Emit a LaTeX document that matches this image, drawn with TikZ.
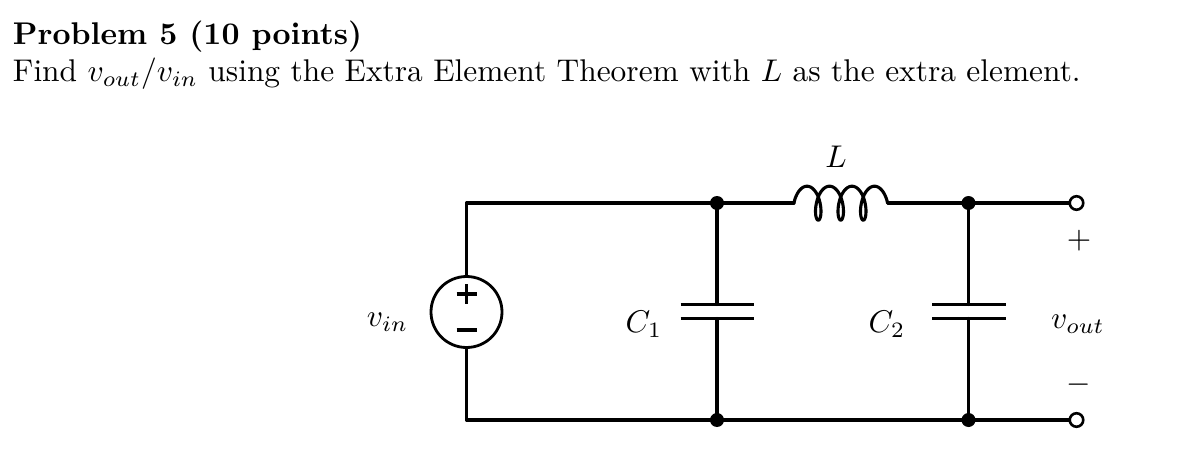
\documentclass[tikz,border=0pt]{standalone}
\newlength{\pxu}
\setlength{\pxu}{0.3185pt}
\tikzset{
  wire/.style={line width=3.1*\pxu, line cap=round, line join=round},
  plate/.style={line width=3.1*\pxu},
  dotnode/.style={circle, fill=black, draw=none, inner sep=0pt, minimum size=14*\pxu},
  term/.style={circle, fill=white, draw=black, line width=2.6*\pxu, inner sep=0pt, minimum size=13.5*\pxu},
  srcnode/.style={circle, draw=black, line width=2.8*\pxu, fill=white, inner sep=0pt, minimum size=71*\pxu},
  lbl/.style={inner sep=0pt, outer sep=0pt},
  txt/.style={inner sep=0pt, outer sep=0pt, anchor=base west}
}
\begin{document}
\begin{tikzpicture}[x=\pxu,y=-\pxu]
\useasboundingbox (0,0) rectangle (1182,464);
% text
\node[txt] (title) at (13,44) {\bfseries Problem 5 (10 points)};
\node[txt] (body) at (13,82) {Find $v_{out}/v_{in}$ using the Extra Element Theorem with $L$ as the extra element.};
% junctions
\coordinate (tl) at (466.5,203);
\coordinate (bl) at (466.5,420);
\node[dotnode] (n1) at (717,203) {};
\node[dotnode] (n2) at (968.5,203) {};
\node[dotnode] (n3) at (717,420) {};
\node[dotnode] (n4) at (968.5,420) {};
\node[term] (t1) at (1076.5,203) {};
\node[term] (t2) at (1076.5,420) {};
\node[srcnode] (src) at (466.5,312) {};
\coordinate (la) at (794,203);
\coordinate (lb) at (888,203);
\coordinate (c1t) at (717,304.5);
\coordinate (c1b) at (717,318.5);
\coordinate (c2t) at (968.5,304.5);
\coordinate (c2b) at (968.5,318.5);
% wires
\draw[wire] (src.north) -- (tl) -- (n1.center) -- (la);
\draw[wire] (lb) -- (n2.center) -- (t1.west);
\draw[wire] (src.south) -- (bl) -- (n3.center) -- (n4.center) -- (t2.west);
\draw[wire] (n1.center) -- (c1t);
\draw[wire] (c1b) -- (n3.center);
\draw[wire] (n2.center) -- (c2t);
\draw[wire] (c2b) -- (n4.center);
% plates
\draw[plate] (680.5,304.5) -- (754,304.5);
\draw[plate] (680.5,318.5) -- (754,318.5);
\draw[plate] (932,304.5) -- (1006,304.5);
\draw[plate] (932,318.5) -- (1006,318.5);
% inductor
\draw[wire] plot[domain=-1.5708:20.42, samples=150, smooth] ({807+22.5*(\x/6.2832)+7.5*sin(\x r)}, {203.2-17*cos(\x r)});
% source signs
\draw[line width=3.2*\pxu] (456.5,294) -- (476.5,294) (466.5,284) -- (466.5,304);
\draw[line width=3.2*\pxu] (456.5,330) -- (476.5,330);
% labels
\node[lbl] (lL) at (836,157) {$L$};
\node[lbl] (lC1) at (644,324) {$C_1$};
\node[lbl] (lC2) at (887,324) {$C_2$};
\node[lbl] (lvin) at (387.5,322) {$v_{in}$};
\node[lbl] (lvout) at (1078,324) {$v_{out}$};
\node[lbl] (lp) at (1079,241) {$+$};
\node[lbl] (lm) at (1079,385) {$-$};
\end{tikzpicture}
\end{document}
